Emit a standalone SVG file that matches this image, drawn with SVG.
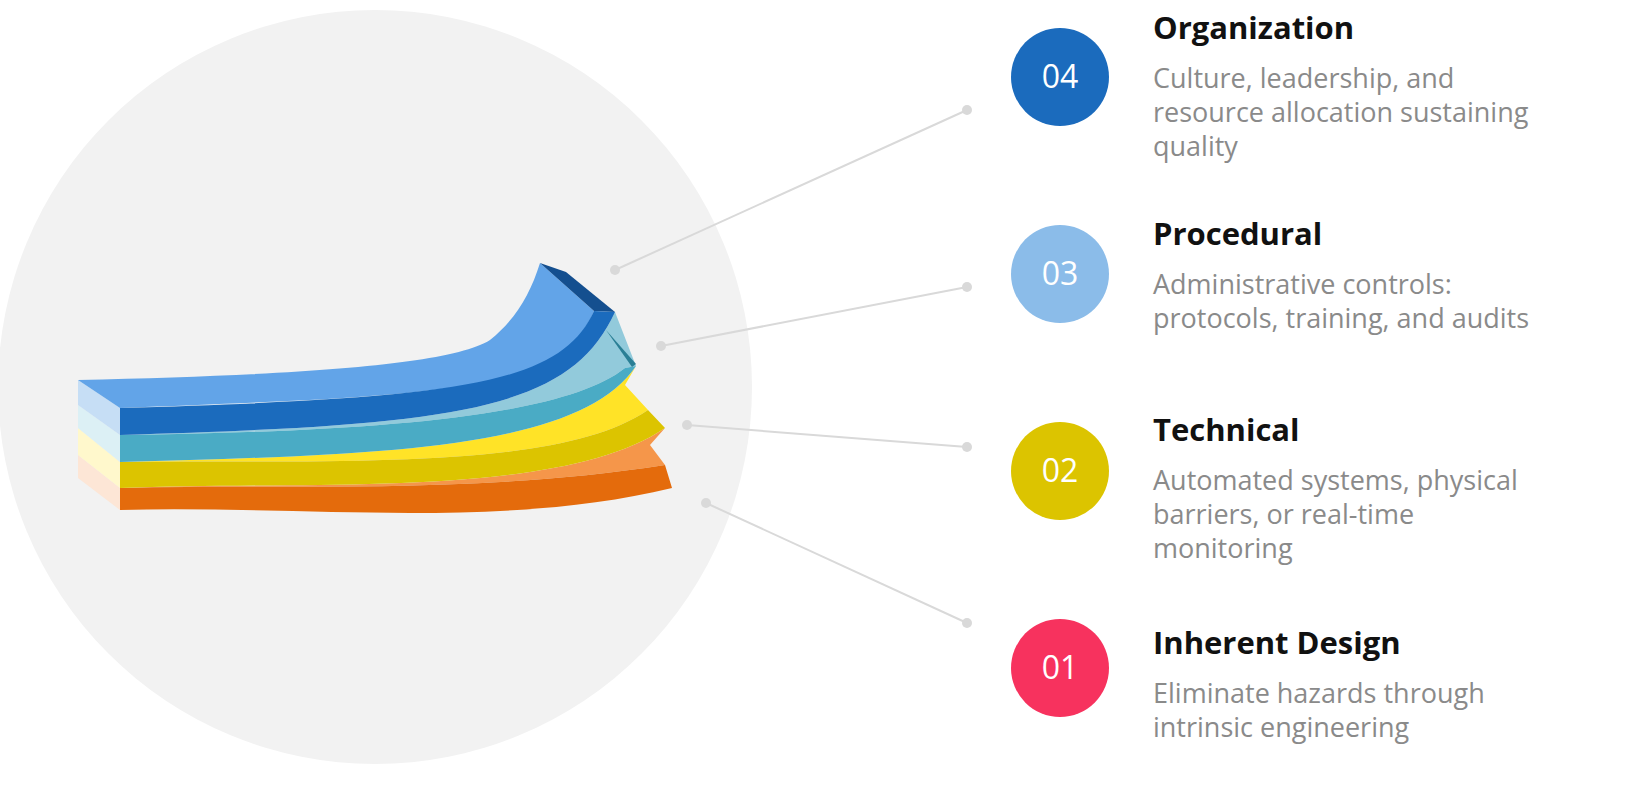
<svg xmlns="http://www.w3.org/2000/svg" width="1625" height="791" viewBox="0 0 1625 791">
<style>
.t{font-family:"Open Sans","Noto Sans",sans-serif;font-weight:700;font-size:31px;fill:#111}
.d{font-family:"Open Sans","Noto Sans",sans-serif;font-size:27px;fill:#8a8a8a}
.n{font-family:"Open Sans","Noto Sans",sans-serif;font-size:32px;fill:#fff;text-anchor:middle}
.ln{stroke:#d9d9d9;stroke-width:2;fill:none}
.dot{fill:#d9d9d9}
</style>
<rect width="1625" height="791" fill="#fff"/>
<circle cx="375" cy="387" r="377" fill="#f2f2f2"/>
<g id="layers">
<!-- orange -->
<path d="M78,455 L120,488 L120,510 L78,478 Z" fill="#fde6d6"/>
<path d="M120,488 C300,484 480,494 665,465 L650,445 L665,428 C560,500 300,480 120,488 Z" fill="#f5964a"/>
<path d="M120,488 C300,484 480,494 665,465 L672,488 C500,530 300,505 120,510 Z" fill="#e46b0c"/>
<!-- yellow -->
<path d="M78,428 L120,462 L120,488 L78,455 Z" fill="#fff8cc"/>
<path d="M120,462 C350,460 560,470 648,410 L625,385 L636,366 C580,450 380,455 120,462 Z" fill="#ffe327"/>
<path d="M120,462 C350,460 560,470 648,410 L665,428 C560,500 300,480 120,488 Z" fill="#dcc400"/>
<!-- cyan -->
<path d="M78,405 L120,435 L120,462 L78,428 Z" fill="#dcf0f5"/>
<path d="M120,435 C350,432 560,420 625,368 L636,366 L615,312 C570,410 460,425 120,435 Z" fill="#92cadb"/>
<path d="M120,435 C350,432 560,420 625,368 L636,366 C580,450 380,455 120,462 Z" fill="#4aabc5"/>
<path d="M606,330 L636,364 L632,367 Z" fill="#2a7f95"/>
<!-- blue -->
<path d="M78,380 L120,408 L120,435 L78,405 Z" fill="#c6def5"/>
<path d="M78,380 C300,375 450,365 490,340 C515,320 530,295 540,263 L594,311 C560,390 460,395 120,408 Z" fill="#62a4e8"/>
<path d="M540,263 L566,272 L615,312 L594,311 Z" fill="#144f8f"/>
<path d="M120,408 C460,398 560,385 594,311 L615,312 C570,410 460,425 120,435 Z" fill="#1b6bbd"/>
</g>
<g id="connectors">
<line class="ln" x1="615" y1="270" x2="967" y2="110"/>
<line class="ln" x1="661" y1="346" x2="967" y2="287"/>
<line class="ln" x1="687" y1="425" x2="967" y2="447"/>
<line class="ln" x1="706" y1="503" x2="967" y2="623"/>
<circle class="dot" cx="615" cy="270" r="5"/><circle class="dot" cx="967" cy="110" r="5"/>
<circle class="dot" cx="661" cy="346" r="5"/><circle class="dot" cx="967" cy="287" r="5"/>
<circle class="dot" cx="687" cy="425" r="5"/><circle class="dot" cx="967" cy="447" r="5"/>
<circle class="dot" cx="706" cy="503" r="5"/><circle class="dot" cx="967" cy="623" r="5"/>
</g>
<g id="node4">
<circle cx="1060" cy="77" r="49" fill="#1b6bbd"/><text class="n" x="1060" y="88">04</text>
<text class="t" x="1153" y="39">Organization</text>
<text class="d" x="1153" y="88">Culture, leadership, and</text>
<text class="d" x="1153" y="122">resource allocation sustaining</text>
<text class="d" x="1153" y="156">quality</text>
</g>
<g id="node3">
<circle cx="1060" cy="274" r="49" fill="#8bbce9"/><text class="n" x="1060" y="285">03</text>
<text class="t" x="1153" y="245">Procedural</text>
<text class="d" x="1153" y="294">Administrative controls:</text>
<text class="d" x="1153" y="328">protocols, training, and audits</text>
</g>
<g id="node2">
<circle cx="1060" cy="471" r="49" fill="#dcc400"/><text class="n" x="1060" y="482">02</text>
<text class="t" x="1153" y="441">Technical</text>
<text class="d" x="1153" y="490">Automated systems, physical</text>
<text class="d" x="1153" y="524">barriers, or real-time</text>
<text class="d" x="1153" y="558">monitoring</text>
</g>
<g id="node1">
<circle cx="1060" cy="668" r="49" fill="#f7325e"/><text class="n" x="1060" y="679">01</text>
<text class="t" x="1153" y="654">Inherent Design</text>
<text class="d" x="1153" y="703">Eliminate hazards through</text>
<text class="d" x="1153" y="737">intrinsic engineering</text>
</g>
</svg>
